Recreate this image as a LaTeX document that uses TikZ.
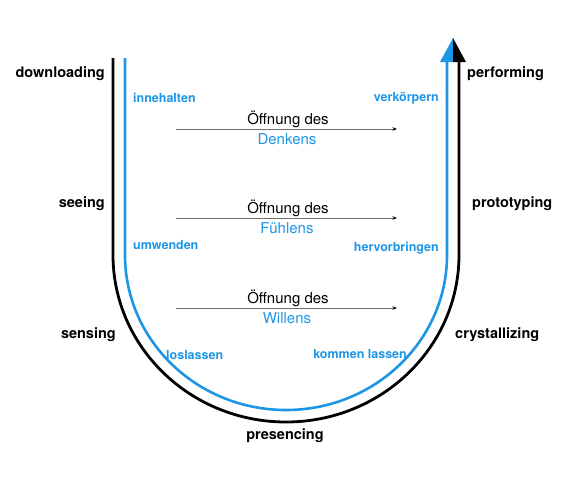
\documentclass[tikz,border=0pt]{standalone}
\usepackage{fontspec}
\setmainfont{TeX Gyre Heros}
\usetikzlibrary{arrows.meta, positioning}
\definecolor{UBlue}{RGB}{30,150,230}
\definecolor{ArrowGray}{RGB}{110,110,110}

\begin{document}
\begin{tikzpicture}[x=1pt, y=-1pt,
	phase/.style={font=\fontsize{14.5}{17}\selectfont\bfseries, inner sep=0pt},
	move/.style={font=\fontsize{12.5}{15}\selectfont\bfseries, text=UBlue, inner sep=0pt},
	open/.style={font=\fontsize{15}{18}\selectfont, inner sep=0pt},
	flow/.style={draw=ArrowGray, line width=0.8pt, -{Stealth[length=4.5pt, width=3.5pt, black]}}]
	\useasboundingbox (0,0) rectangle (576,480);
	% U curve, outer black and inner blue
	\coordinate (tip) at (453,38);
	\draw[line width=2.8pt] (113,58) -- (113,255)
		.. controls (113,347.2) and (190.5,422) .. (286,422)
		.. controls (381.5,422) and (459,347.2) .. (459,255) -- (459,62);
	\draw[UBlue, line width=2.6pt] (125,58) -- (125,255)
		.. controls (125,340.6) and (197.1,410) .. (286,410)
		.. controls (374.9,410) and (447,340.6) .. (447,255) -- (447,62);
	\fill[UBlue] (440,62) -- (tip) -- (453,62) -- cycle;
	\fill[black] (tip) -- (466,62) -- (453,62) -- cycle;
	% left and right stages
	\node[phase, anchor=base east] (down) at (105,77) {downloading};
	\node[phase, anchor=base east] (see) at (105,207) {seeing};
	\node[phase, anchor=base east] (sens) at (116,338) {sensing};
	\node[phase, anchor=base west] (perf) at (467,77) {performing};
	\node[phase, anchor=base west] (proto) at (472,207) {prototyping};
	\node[phase, anchor=base west] (cryst) at (455,338) {crystallizing};
	\node[phase, anchor=base] (pres) at (285,439) {presencing};
	% movements along the U
	\node[move, anchor=base west] (inne) at (133,102) {innehalten};
	\node[move, anchor=base east] (verk) at (439,101) {verkörpern};
	\node[move, anchor=base west] (umw) at (133,249) {umwenden};
	\node[move, anchor=base east] (herv) at (439,251) {hervorbringen};
	\node[move, anchor=base west] (losl) at (166,359) {loslassen};
	\node[move, anchor=base east] (komm) at (407,358) {kommen lassen};
	% openings
	\foreach \y/\what [count=\i] in {129/Denkens, 218/Fühlens, 308/Willens}{
		\coordinate (s\i) at (176,\y);
		\coordinate (e\i) at (397,\y);
		\draw[flow] (s\i) -- (e\i);
		\node[open, anchor=base] (o\i) at (288,\y-5) {Öffnung des};
		\node[open, anchor=base, text=UBlue] (w\i) at (287,\y+15) {\what};
	}
\end{tikzpicture}
\end{document}
